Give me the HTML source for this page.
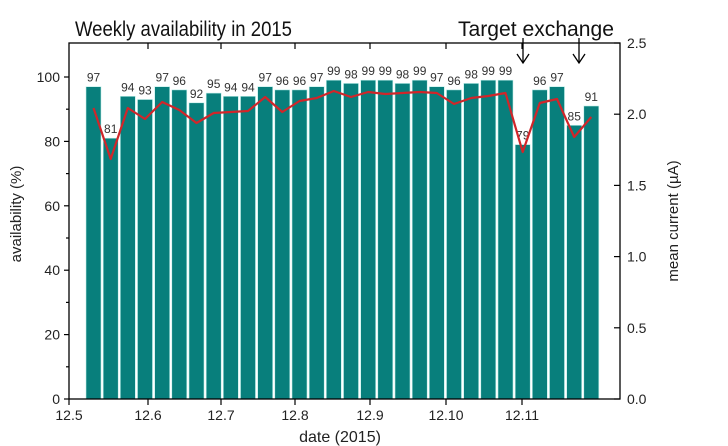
<!DOCTYPE html>
<html><head><meta charset="utf-8"><style>
html,body{margin:0;padding:0;background:#fff;}
svg{display:block;font-family:"Liberation Sans",Arial,sans-serif;}
</style></head><body>
<svg width="728" height="446" viewBox="0 0 728 446" xmlns="http://www.w3.org/2000/svg">
<g id="bars" fill="#087f7c" stroke="#bfeeea" stroke-width="0.6"></g>
<g id="labels" font-size="12" fill="#333" text-anchor="middle"></g>
<polyline id="line" fill="none" stroke="#d0262a" stroke-width="2.2" stroke-linejoin="round"/>
<g stroke="#000" stroke-width="1.3" fill="none">
<rect x="69" y="43" width="551" height="356"/>
</g>
<g id="ticks" stroke="#000" stroke-width="1.2"></g>
<g font-size="14" fill="#222" text-anchor="end" id="ylab"></g>
<g font-size="14" fill="#222" id="rlab"></g>
<g font-size="14" fill="#222" text-anchor="middle" id="xlab"></g>
<text x="16" y="214" font-size="15" fill="#222" text-anchor="middle" transform="rotate(-90 16 214)" dy="5">availability (%)</text>
<text x="673" y="221" font-size="15" fill="#222" text-anchor="middle" transform="rotate(-90 673 221)" dy="5">mean current (µA)</text>
<text x="340" y="442" font-size="16" fill="#222" text-anchor="middle">date (2015)</text>
<text x="75" y="36" font-size="21" fill="#111" textLength="217" lengthAdjust="spacingAndGlyphs">Weekly availability in 2015</text>
<text x="458" y="36" font-size="21" fill="#111" textLength="156" lengthAdjust="spacingAndGlyphs">Target exchange</text>
<g stroke="#000" stroke-width="1.3" fill="none">
<line x1="523" y1="38" x2="523" y2="63"/><polyline points="517,54 523,63 529,54"/>
<line x1="579" y1="38" x2="579" y2="63"/><polyline points="573,54 579,63 585,54"/>
</g>
<script>
var v=[97,81,94,93,97,96,92,95,94,94,97,96,96,97,99,98,99,99,98,99,97,96,98,99,99,79,96,97,85,91];
var ly=[108,159,108,119,102,110,123,113,112,111,97,112,101,98,91,97,92,94,93,92,93,104,98,96,93,152,103,99,137,117];
var ns="http://www.w3.org/2000/svg";
function el(p,t,a,txt){var e=document.createElementNS(ns,t);for(var k in a)e.setAttribute(k,a[k]);if(txt!=null)e.textContent=txt;document.getElementById(p).appendChild(e);return e;}
var pitch=(601-86)/30,bw=15,pts=[];
for(var i=0;i<30;i++){var x=86+i*pitch;var h=v[i]*3.22;var y=399-h;
el("bars","rect",{x:x.toFixed(1),y:y.toFixed(1),width:bw,height:h.toFixed(1)});
el("labels","text",{x:(x+bw/2).toFixed(1),y:(y-5).toFixed(1)},v[i]);
pts.push((x+bw/2).toFixed(1)+","+ly[i]);}
document.getElementById("line").setAttribute("points",pts.join(" "));
for(var k=0;k<=10;k++){var y=399-k*10*3.22;var len=k%2==0?5:3;
el("ticks","line",{x1:69-len,y1:y,x2:69,y2:y});
if(k%2==0)el("ylab","text",{x:60,y:y+5},k*10);}
for(var k=0;k<=5;k++){var y=399-k*0.5*142.4;
el("ticks","line",{x1:614,y1:y,x2:620,y2:y});
el("rlab","text",{x:627,y:y+5},(k*0.5).toFixed(1));}
var xt=[69,148,221,295,370,446,522],xl=["12.5","12.6","12.7","12.8","12.9","12.10","12.11"];
for(var k=0;k<7;k++){el("ticks","line",{x1:xt[k],y1:399,x2:xt[k],y2:405});
if(k>0)el("ticks","line",{x1:xt[k],y1:43,x2:xt[k],y2:49});
el("xlab","text",{x:xt[k],y:420},xl[k]);}
</script>
</svg>
</body></html>
